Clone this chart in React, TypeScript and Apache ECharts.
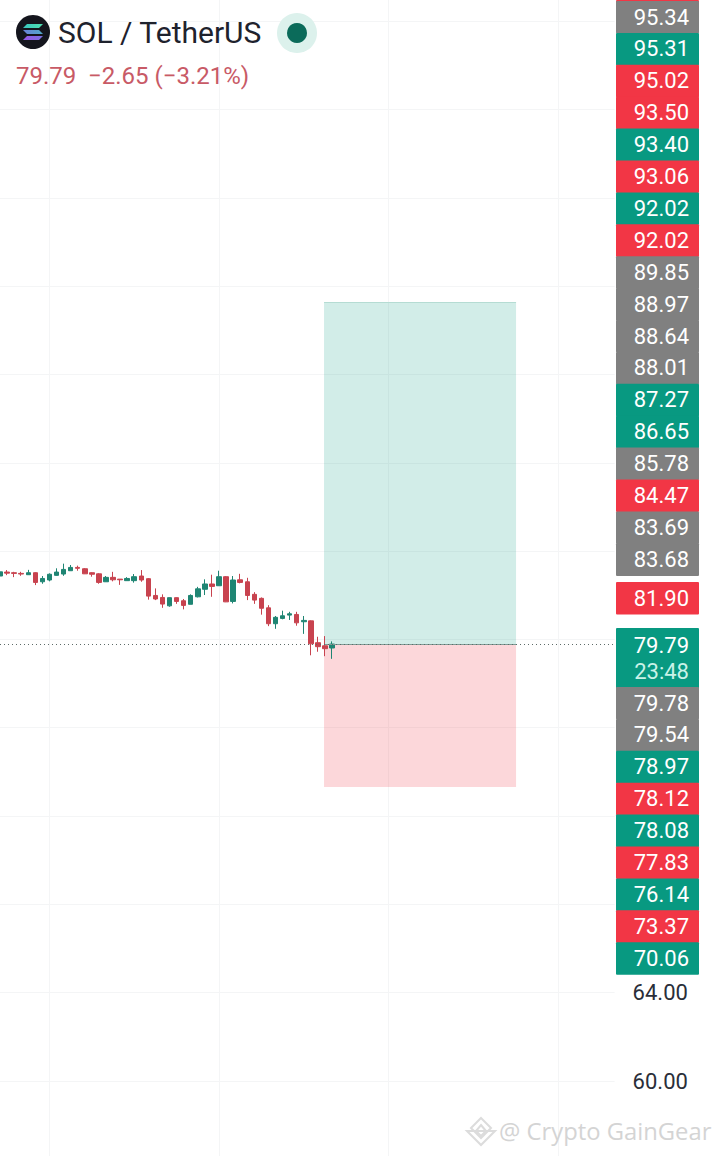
import React, { useEffect, useRef } from "react";
import * as echarts from "echarts";

// [open, close, low, high]
const candles: number[][] = [
  [82.87, 83.06, 82.82, 83.1], [83.05, 83.0, 82.91, 83.14], [83.02, 82.99, 82.82, 83.06], [82.99, 82.96, 82.88, 83.06],
  [82.93, 83.02, 82.93, 83.15], [83.02, 82.58, 82.46, 83.04], [82.61, 82.76, 82.52, 82.87], [82.69, 82.95, 82.63, 82.99],
  [82.9, 83.05, 82.88, 83.22], [82.96, 83.17, 82.88, 83.43], [83.11, 83.26, 83.1, 83.37], [83.26, 83.22, 83.11, 83.34],
  [83.2, 82.97, 82.96, 83.23], [83.02, 82.95, 82.84, 83.04], [82.97, 82.58, 82.52, 83.0], [82.61, 82.81, 82.6, 82.87],
  [82.81, 82.7, 82.63, 83.06], [82.73, 82.7, 82.47, 82.73], [82.66, 82.76, 82.66, 82.82], [82.66, 82.84, 82.57, 82.96],
  [82.87, 82.69, 82.61, 83.14], [82.75, 81.96, 81.8, 82.78], [81.99, 81.83, 81.78, 82.31], [81.9, 81.6, 81.43, 82.04],
  [81.52, 81.89, 81.48, 81.89], [81.89, 81.72, 81.61, 81.9], [81.75, 81.54, 81.36, 81.83], [81.59, 81.99, 81.59, 82.04],
  [81.93, 82.29, 81.9, 82.38], [82.27, 82.51, 82.01, 82.72], [82.51, 82.4, 81.93, 82.93], [82.43, 82.84, 82.42, 83.11],
  [82.84, 81.7, 81.69, 82.87], [81.72, 82.69, 81.63, 82.87], [82.7, 82.58, 82.54, 82.97], [82.61, 81.99, 81.78, 82.79],
  [82.04, 81.78, 81.61, 82.14], [81.86, 81.41, 81.12, 81.9], [81.43, 80.71, 80.6, 81.55], [80.71, 81.0, 80.48, 81.06],
  [80.95, 81.07, 80.91, 81.3], [81.1, 81.16, 80.88, 81.25], [81.13, 80.75, 80.62, 81.25], [80.8, 80.86, 80.25, 81.06],
  [80.84, 79.8, 79.28, 80.86], [79.85, 79.67, 79.44, 80.12], [79.71, 79.58, 79.24, 80.15], [79.61, 79.79, 79.12, 79.91],
];
const slotCount = 88;
const categories: string[] = Array.from({ length: slotCount }, (_, i) => String(i));

const lastPrice = 79.79;
const targetPrice = 95.28;
const stopPrice = 73.31;
const toolStart = 45.87;
const toolEnd = 73.05;

const upperLabels = ["95.34", "95.31", "95.02", "93.50", "93.40", "93.06", "92.02", "92.02", "89.85", "88.97", "88.64", "88.01", "87.27", "86.65", "85.78", "84.47", "83.69", "83.68"];
const upperKinds = ["n", "u", "d", "d", "u", "d", "u", "d", "n", "n", "n", "n", "u", "u", "n", "d", "n", "n"];
const midLabel = "81.90";
const currentLabel = "79.79";
const countdownLabel = "23:48";
const lowerLabels = ["79.78", "79.54", "78.97", "78.12", "78.08", "77.83", "76.14", "73.37", "70.06"];
const lowerKinds = ["n", "n", "u", "d", "u", "d", "u", "d", "u"];
const axisTicks = [60, 64];

const symbolTitle = "SOL / TetherUS";
const quotePrice = "79.79";
const quoteChange = "\u22122.65 (\u22123.21%)";
const watermark = "@ Crypto GainGear";

const FONT = "Roboto";
const kindColor: Record<string, string> = { n: "#808080", u: "#089981", d: "#f23645" };
const UP = "#1f8573";
const DOWN = "#c8434f";

function priceBox(y: number, h: number, fill: string, text?: string) {
  const out: any[] = [
    { type: "rect", z: 100, shape: { x: 616, y, width: 83, height: h + 0.6, r: 1 }, style: { fill } },
  ];
  if (text)
    out.push({
      type: "text", z: 101, x: 689, y: y + h / 2,
      style: { text, fill: "#ffffff", font: `22px ${FONT}`, textAlign: "right", textVerticalAlign: "middle" },
    });
  return out;
}

function buildGraphics() {
  const els: any[] = [];
  els.push(...priceBox(0, 3, kindColor.d));
  upperLabels.forEach((t, i) => els.push(...priceBox(1 + i * 31.9, 32, kindColor[upperKinds[i]], t)));
  els.push(...priceBox(582, 32, kindColor.d, midLabel));
  els.push(...priceBox(628, 60, kindColor.u));
  els.push({ type: "text", z: 101, x: 689, y: 645, style: { text: currentLabel, fill: "#fff", font: `22px ${FONT}`, textAlign: "right", textVerticalAlign: "middle" } });
  els.push({ type: "text", z: 101, x: 689, y: 671, style: { text: countdownLabel, fill: "#c9f2e8", font: `22px ${FONT}`, textAlign: "right", textVerticalAlign: "middle" } });
  lowerLabels.forEach((t, i) => els.push(...priceBox(687 + i * 31.9, 32, kindColor[lowerKinds[i]], t)));

  // header
  els.push({ type: "circle", z: 100, shape: { cx: 33, cy: 32, r: 17 }, style: { fill: "#14151d" } });
  const grad = (a: string, b: string) => new echarts.graphic.LinearGradient(0, 0, 1, 0, [{ offset: 0, color: a }, { offset: 1, color: b }]);
  els.push({ type: "polygon", z: 101, shape: { points: [[27, 24], [43, 24], [39, 28], [23, 28]] }, style: { fill: grad("#39c6c0", "#4fe0b0") } });
  els.push({ type: "polygon", z: 101, shape: { points: [[23, 30], [39, 30], [43, 34], [27, 34]] }, style: { fill: grad("#6a7fd8", "#50a8c8") } });
  els.push({ type: "polygon", z: 101, shape: { points: [[27, 36], [43, 36], [39, 40], [23, 40]] }, style: { fill: grad("#9a55e8", "#7a70e0") } });
  els.push({ type: "text", z: 100, x: 58, y: 32, style: { text: symbolTitle, fill: "#1e222d", font: `30px ${FONT}`, textVerticalAlign: "middle" } });
  els.push({ type: "circle", z: 100, shape: { cx: 297, cy: 33, r: 20 }, style: { fill: "#dcf1ec" } });
  els.push({ type: "circle", z: 101, shape: { cx: 297, cy: 33, r: 10 }, style: { fill: "#0b6b5a" } });
  els.push({ type: "text", z: 100, x: 16, y: 76, style: { text: quotePrice, fill: "#c85a66", font: `24px ${FONT}`, textVerticalAlign: "middle" } });
  els.push({ type: "text", z: 100, x: 88, y: 76, style: { text: quoteChange, fill: "#c85a66", font: `24px ${FONT}`, textVerticalAlign: "middle" } });

  // watermark
  const wm = { fill: "none", stroke: "#dcdcdc", lineWidth: 2 };
  els.push({ type: "polygon", z: 100, shape: { points: [[481, 1118], [491, 1128], [481, 1138], [471, 1128]] }, style: wm });
  els.push({ type: "polygon", z: 100, shape: { points: [[481, 1125], [486, 1131], [481, 1136], [476, 1131]] }, style: wm });
  els.push({ type: "polygon", z: 100, shape: { points: [[467, 1131], [481, 1145], [495, 1131]] }, style: { ...wm, fill: "none" } });
  els.push({
    type: "text", z: 100, x: 499, y: 1131,
    style: { text: watermark, fill: "#d4d4d4", font: `23.8px "Open Sans"`, textVerticalAlign: "middle" },
  });
  return els;
}

export default function App() {
  const ref = useRef<HTMLDivElement>(null);
  useEffect(() => {
    document.body.style.margin = "0";
    const chart = echarts.init(ref.current!, undefined, { renderer: "svg" });
    chart.setOption({
      animation: false,
      backgroundColor: "#ffffff",
      grid: { left: 0, width: 614.6, top: -67.16, height: 1236.48, outerBoundsMode: "none" },
      xAxis: [
        {
          type: "category",
          data: categories,
          boundaryGap: false,
          axisLine: { show: false },
          axisTick: { show: false },
          axisLabel: { show: false },
          splitLine: {
            show: true,
            interval: (i: number) => i % 24 === 7,
            lineStyle: { color: "#f4f5f6", width: 1 },
          },
        },
        { type: "value", min: 0, max: slotCount - 1, show: false, splitLine: { show: false } },
      ],
      yAxis: {
        type: "value",
        position: "right",
        min: 56,
        max: 112,
        interval: 4,
        axisLine: { show: false },
        axisTick: { show: false },
        axisLabel: {
          margin: 18,
          color: "#2a2e39",
          fontFamily: FONT,
          fontSize: 22,
          formatter: (v: number) => (axisTicks.includes(v) ? v.toFixed(2) : ""),
        },
        splitLine: { show: true, lineStyle: { color: "#f4f5f6", width: 1 } },
      },
      series: [
        {
          type: "line",
          xAxisIndex: 1,
          yAxisIndex: 0,
          data: [[toolStart, lastPrice]],
          showSymbol: false,
          silent: true,
          lineStyle: { opacity: 0 },
          markArea: {
            silent: true,
            data: [
              [
                { coord: [toolStart, targetPrice], itemStyle: { color: "rgba(8,153,129,0.18)" } },
                { coord: [toolEnd, lastPrice] },
              ],
              [
                { coord: [toolStart, lastPrice], itemStyle: { color: "rgba(242,54,69,0.2)" } },
                { coord: [toolEnd, stopPrice] },
              ],
            ],
          },
          markLine: {
            silent: true,
            symbol: "none",
            label: { show: false },
            data: [
              [
                { coord: [toolStart, targetPrice], lineStyle: { color: "#b5dcd3", width: 1, type: "solid" } },
                { coord: [toolEnd, targetPrice] },
              ],
              [
                { coord: [toolStart, lastPrice], lineStyle: { color: "#7f9c96", width: 1, type: "solid" } },
                { coord: [toolEnd, lastPrice] },
              ],
            ],
          },
        },
        {
          type: "candlestick",
          data: candles,
          barWidth: 5,
          itemStyle: { color: UP, color0: DOWN, borderColor: UP, borderColor0: DOWN, borderWidth: 1 },
          markLine: {
            silent: true,
            symbol: "none",
            label: { show: false },
            lineStyle: { color: "#5d6b68", width: 1, type: [1, 3] },
            data: [{ yAxis: lastPrice }],
          },
        },
      ],
      graphic: { elements: buildGraphics() },
    });
    return () => chart.dispose();
  }, []);
  return <div ref={ref} style={{ width: 720, height: 1156 }} />;
}
